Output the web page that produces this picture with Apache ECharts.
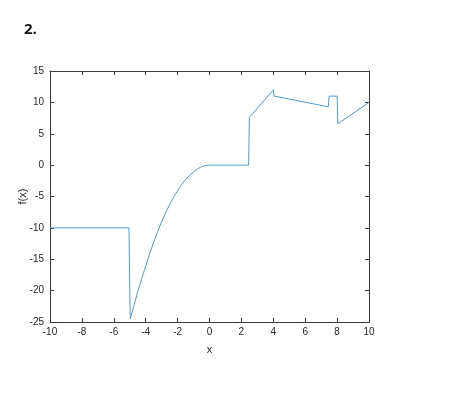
<!DOCTYPE html>
<html>
<head>
<meta charset="utf-8">
<script src="https://cdn.jsdelivr.net/npm/echarts@6/dist/echarts.min.js"></script>
<style>
html,body{margin:0;padding:0;background:#fff;}
#title{position:absolute;left:24px;top:18px;font-family:"Open Sans","Liberation Sans",sans-serif;font-weight:bold;font-size:15px;color:#111;}
#c{position:absolute;left:0;top:0;width:474px;height:415px;}
</style>
</head>
<body>
<div id="c"></div>
<div id="title">2.</div>
<script>
// Data
const xValues = [-10, -5.05, -4.97, -4.75, -4.5, -4.25, -4, -3.75, -3.5, -3.25, -3, -2.75, -2.5, -2.25, -2, -1.75, -1.5, -1.25, -1, -0.75, -0.5, -0.25, 0, 2.45, 2.5, 4, 4.05, 7.45, 7.5, 8.0, 8.05, 10];
const yValues = [-10, -10, -24.5, -22.5, -20.2, -18.1, -16.1, -14.1, -12.3, -10.6, -9.0, -7.6, -6.3, -5.1, -4.1, -3.1, -2.3, -1.6, -1.1, -0.6, -0.25, -0.06, 0, 0, 7.6, 12, 11, 9.3, 11, 11, 6.6, 10];
const xTicks = [-10, -8, -6, -4, -2, 0, 2, 4, 6, 8, 10];
const yTicks = [-25, -20, -15, -10, -5, 0, 5, 10, 15];
const xLabel = 'x';
const yLabel = 'f(x)';

const points = xValues.map((x, i) => [x, yValues[i]]);
const font = '"Liberation Sans", Arial, sans-serif';
const axisColor = '#262626';
const lineCol = '#3a3a3a';

const baseX = {
  type: 'value', min: xTicks[0], max: xTicks[xTicks.length - 1], interval: 2,
  axisLine: {show: true, onZero: false, lineStyle: {color: lineCol, width: 1}},
  axisTick: {show: true, inside: true, length: 4, lineStyle: {color: lineCol}},
  splitLine: {show: false}
};
const baseY = {
  type: 'value', min: yTicks[0], max: yTicks[yTicks.length - 1], interval: 5,
  axisLine: {show: true, onZero: false, lineStyle: {color: lineCol, width: 1}},
  axisTick: {show: true, inside: true, length: 4, lineStyle: {color: lineCol}},
  splitLine: {show: false}
};

const chart = echarts.init(document.getElementById('c'), null, {renderer: 'canvas'});
chart.setOption({
  animation: false,
  grid: {left: 50, right: 105, top: 71, bottom: 93, containLabel: false},
  xAxis: [
    Object.assign({}, baseX, {
      position: 'bottom',
      name: xLabel, nameLocation: 'middle', nameGap: 22,
      nameTextStyle: {fontFamily: font, fontSize: 11, color: axisColor},
      axisLabel: {show: true, margin: 5, fontFamily: font, fontSize: 10, color: axisColor}
    }),
    Object.assign({}, baseX, {position: 'top', axisLabel: {show: false}})
  ],
  yAxis: [
    Object.assign({}, baseY, {
      position: 'left',
      name: yLabel, nameLocation: 'middle', nameGap: 22, nameMoveOverlap: false,
      nameTextStyle: {fontFamily: font, fontSize: 11, color: axisColor},
      axisLabel: {show: true, margin: 6, fontFamily: font, fontSize: 10, color: axisColor}
    }),
    Object.assign({}, baseY, {position: 'right', axisLabel: {show: false}})
  ],
  series: [{
    type: 'line', data: points, xAxisIndex: 0, yAxisIndex: 0,
    showSymbol: false, symbol: 'none',
    lineStyle: {color: '#4f9ccf', width: 1},
    clip: true
  }]
});
</script>
</body>
</html>
